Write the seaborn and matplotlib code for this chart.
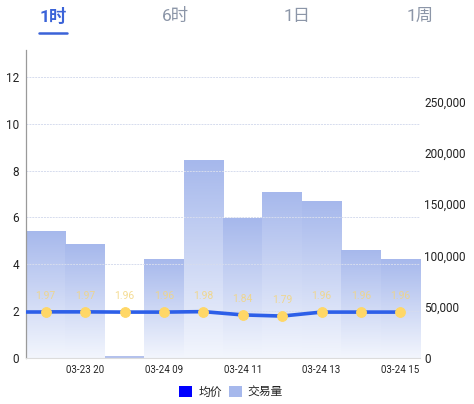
import numpy as np
import pandas as pd
import matplotlib
matplotlib.use("Agg")
import matplotlib.pyplot as plt
import seaborn as sns
from matplotlib.patches import Patch
from matplotlib.colors import LinearSegmentedColormap
from matplotlib.ticker import FuncFormatter

# ---- data ----
categories = ["03-23 19", "03-23 20", "03-24 08", "03-24 09", "03-24 10",
              "03-24 11", "03-24 12", "03-24 13", "03-24 14", "03-24 15"]
shown_labels = ["", "03-23 20", "", "03-24 09", "", "03-24 11", "", "03-24 13", "", "03-24 15"]
volume = [124000, 111000, 1500, 96600, 192500, 136300, 162100, 152800, 105600, 96600]
avg_price = [1.97, 1.97, 1.96, 1.96, 1.98, 1.84, 1.79, 1.96, 1.96, 1.96]
price_labels = ["1.97", "1.97", "1.96", "1.96", "1.98", "1.84", "1.79", "1.96", "1.96", "1.96"]
left_ticks = [0, 2, 4, 6, 8, 10, 12]
right_ticks = [0, 50000, 100000, 150000, 200000, 250000]
tabs = ["1时", "6时", "1日", "1周"]
legend_names = ["均价", "交易量"]

df = pd.DataFrame({"cat": categories, "volume": volume, "price": avg_price})

sns.set_theme(style="white")
plt.rcParams['font.family'] = ['Roboto', 'Noto Sans CJK SC', 'DejaVu Sans']

fig = plt.figure(figsize=(4.74, 4.04), dpi=100)
W, H = 474, 404
L, R, B, T = 26, 420, 358, 50
ax_vol = fig.add_axes([L / W, 1 - B / H, (R - L) / W, (B - T) / H])
ax_price = ax_vol.twinx()

BAR_TOP = "#a6b8ec"
# volume bars (right axis)
sns.barplot(data=df, x="cat", y="volume", ax=ax_vol, color=BAR_TOP, width=1.0,
            saturation=1, edgecolor="none")
ax_vol.set_ylim(0, 300000)
ax_vol.set_xlim(-0.5, len(categories) - 0.5)
cmap = LinearSegmentedColormap.from_list("g", ["#f3f6fd", BAR_TOP])
grad = np.linspace(0, 1, 256).reshape(-1, 1)
for p in list(ax_vol.patches):
    x0, y0 = p.get_x(), p.get_y()
    w, h = p.get_width(), p.get_height()
    if h <= 0:
        continue
    if h < 5000:
        p.set_facecolor("#b3c1ec")
        continue
    im = ax_vol.imshow(grad, extent=[x0, x0 + w, y0, y0 + h], origin="lower",
                       cmap=cmap, aspect="auto", zorder=p.get_zorder() + 0.1)
    im.set_clip_path(p)
ax_vol.set_xlim(-0.5, len(categories) - 0.5)
ax_vol.set_ylim(0, 300000)

# right axis labelling
ax_vol.yaxis.tick_right()
ax_vol.yaxis.set_label_position("right")
ax_vol.set_yticks(right_ticks)
ax_vol.yaxis.set_major_formatter(FuncFormatter(lambda v, _: f"{int(v):,}"))
ax_vol.tick_params(axis="y", length=0, labelsize=8.5, colors="#222222", pad=3)
ax_vol.set_xticks(range(len(categories)))
ax_vol.set_xticklabels(shown_labels)
ax_vol.tick_params(axis="x", length=0, labelsize=7, colors="#222222", pad=5)
ax_vol.set_xlabel("")
ax_vol.set_ylabel("")

# price axis (left)
ax_price.yaxis.tick_left()
ax_price.set_ylim(0, 13.15)
ax_price.set_yticks(left_ticks)
ax_price.tick_params(axis="y", length=0, labelsize=8.5, colors="#222222", pad=5)
for t in left_ticks[1:]:
    ax_price.axhline(t, color="#d6dcee", lw=0.7, ls=(0, (2, 1)), zorder=1.5)
xs = np.arange(len(categories))
xl = ax_vol.get_xlim()
ax_price.plot([xl[0], xs[0]], [avg_price[0], avg_price[0]], color="#2d5fe8", lw=2.6,
              solid_capstyle="butt", zorder=3)
sns.lineplot(x=xs, y=avg_price, ax=ax_price, color="#2d5fe8", lw=2.6, zorder=3,
             marker="o", markersize=7, markerfacecolor="#ffd766",
             markeredgecolor="#ffd766")
for x, v, s in zip(xs, avg_price, price_labels):
    ax_price.annotate(s, (x, v), xytext=(0, 8), textcoords="offset points",
                      ha="center", va="bottom", fontsize=7.5, color="#f3d57e",
                      alpha=0.85, zorder=4)
ax_price.set_xlim(xl)

for a in (ax_vol, ax_price):
    for s in a.spines.values():
        s.set_visible(False)
ax_price.spines["left"].set_visible(True)
ax_price.spines["left"].set_color("#9a9a9a")
ax_price.spines["left"].set_linewidth(0.9)
ax_price.spines["bottom"].set_visible(True)
ax_price.spines["bottom"].set_color("#dcdcdc")
ax_price.spines["bottom"].set_linewidth(0.8)

# tabs
tab_x = [53, 175, 297, 420]
for i, (tx, name) in enumerate(zip(tab_x, tabs)):
    fig.text(tx / W, 1 - 16 / H, name, ha="center", va="center", fontsize=12.5,
             color="#3b63d8" if i == 0 else "#8c96a8",
             fontweight="bold" if i == 0 else "normal")
fig.add_artist(plt.Line2D([39 / W, 67 / W], [1 - 32.5 / H, 1 - 32.5 / H],
                          color="#3b63d8", lw=1.8, transform=fig.transFigure))

# legend
handles = [Patch(facecolor="#0000ff", edgecolor="none"),
           Patch(facecolor=BAR_TOP, edgecolor="none")]
fig.legend(handles, legend_names, loc="center", bbox_to_anchor=(231 / W, 1 - 392 / H),
           ncol=2, frameon=False, fontsize=8.5, handlelength=1.1, handleheight=1.1,
           handletextpad=0.5, columnspacing=0.6)

fig.savefig("out.png", dpi=100)
